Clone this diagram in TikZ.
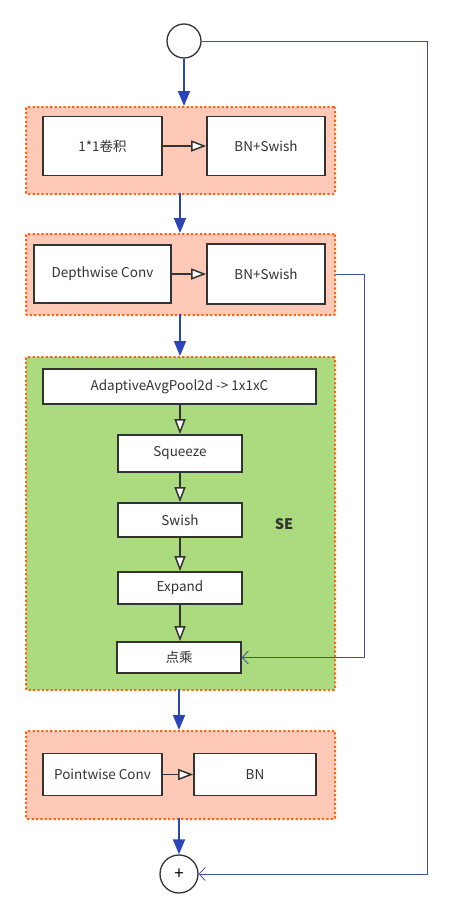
\documentclass[tikz,border=0pt]{standalone}
\usepackage{fontspec}
\setmainfont{Noto Sans CJK SC}
\usetikzlibrary{arrows.meta}
\definecolor{boxpink}{RGB}{255,201,184}
\definecolor{boxgreen}{RGB}{172,218,126}
\definecolor{dotorange}{RGB}{255,100,15}
\definecolor{mainblue}{RGB}{43,68,184}
\definecolor{skipblue}{RGB}{60,80,170}
\definecolor{edgegray}{RGB}{51,51,51}
\tikzset{
  container/.style={draw=dotorange, line width=2pt, dash pattern=on 2.2pt off 2.2pt, rounded corners=1pt},
  opbox/.style={draw=edgegray, line width=1.6pt, fill=white, inner sep=0pt, font=\fontsize{13.5}{15}\selectfont, text=edgegray},
  circ/.style={draw=edgegray, circle, line width=1.3pt, fill=white, inner sep=0pt},
  mainarrow/.style={draw=mainblue, line width=1.8pt, -{Triangle[length=15pt, width=12pt]}},
  innerarrow/.style={draw=edgegray, line width=1.5pt, -{Triangle[open, length=15pt, width=11pt, fill=white]}},
  skiparrow/.style={draw=skipblue, line width=0.8pt, -{Straight Barb[length=6pt, width=13pt]}},
}
\begin{document}
\begin{tikzpicture}[x=1pt, y=-1pt]
\useasboundingbox (0,0) rectangle (451,918);
% containers
\node[container, fill=boxpink, minimum width=309pt, minimum height=87pt, anchor=north west] (c1) at (25,106) {};
\node[container, fill=boxpink, minimum width=309pt, minimum height=81pt, anchor=north west] (c2) at (25,233) {};
\node[container, fill=boxgreen, minimum width=309pt, minimum height=333pt, anchor=north west] (c3) at (25,356) {};
\node[container, fill=boxpink, minimum width=309pt, minimum height=88pt, anchor=north west] (c4) at (25,730) {};
% circles
\node[circ, minimum size=34pt] (in) at (184,41) {};
\node[circ, minimum size=38pt, font=\fontsize{17}{17}\selectfont] (plus) at (179,874) {+};
% box 1
\node[opbox, minimum width=119pt, minimum height=59pt] (conv1) at (102.5,146) {1*1卷积};
\node[opbox, minimum width=118pt, minimum height=59pt] (bns1) at (266,146) {BN+Swish};
% box 2
\node[opbox, minimum width=137pt, minimum height=58pt] (dw) at (102.5,274) {Depthwise Conv};
\node[opbox, minimum width=118pt, minimum height=60pt] (bns2) at (266,274) {BN+Swish};
% SE
\node[opbox, minimum width=273pt, minimum height=35pt] (pool) at (179.5,386.5) {AdaptiveAvgPool2d -> 1x1xC};
\node[opbox, minimum width=124pt, minimum height=37pt] (sq) at (180,453.5) {Squeeze};
\node[opbox, minimum width=124pt, minimum height=34pt] (sw) at (180,520) {Swish};
\node[opbox, minimum width=124pt, minimum height=32pt] (ex) at (180,588) {Expand};
\node[opbox, minimum width=124pt, minimum height=31pt] (mul) at (179,657.5) {点乘};
\node[font=\bfseries\fontsize{14.5}{16}\selectfont, text=edgegray] (se) at (284,524) {SE};
% box 4
\node[opbox, minimum width=119pt, minimum height=42pt] (pw) at (102.5,774.5) {Pointwise Conv};
\node[opbox, minimum width=122pt, minimum height=42pt] (bn) at (255,774.5) {BN};
% main arrows
\draw[mainarrow] (in.south) -- (in.south |- c1.north);
\draw[mainarrow] (180,193) -- (180,233);
\draw[mainarrow] (180,314) -- (180,356);
\draw[mainarrow] (179,689) -- (179,730);
\draw[mainarrow] (179,818) -- (plus.north);
% inner arrows
\draw[innerarrow] (conv1.east) -- (bns1.west);
\draw[innerarrow] (dw.east) -- (bns2.west);
\draw[innerarrow] (pw.east) -- (bn.west);
\draw[innerarrow] (pool.south -| sq.north) -- (sq.north);
\draw[innerarrow] (sq.south) -- (sw.north);
\draw[innerarrow] (sw.south) -- (ex.north);
\draw[innerarrow] (ex.south) -- (ex.south |- mul.north);
% skip connections
\coordinate (s1) at (364,274);
\coordinate (s2) at (364,657.5);
\draw[skiparrow] (c2.east |- bns2.east) -- (s1) -- (s2) -- (mul.east);
\coordinate (t1) at (427,41);
\coordinate (t2) at (427,874);
\draw[skiparrow] (in.east) -- (t1) -- (t2) -- (plus.east);
\end{tikzpicture}
\end{document}
